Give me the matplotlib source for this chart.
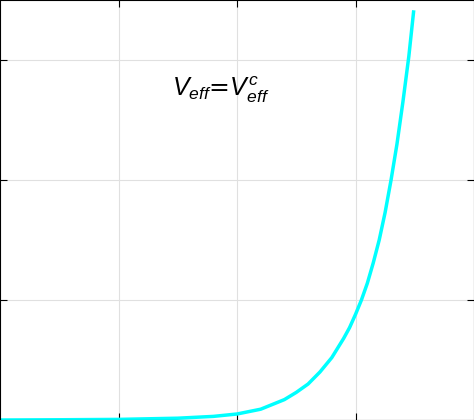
import matplotlib
matplotlib.use("Agg")
import matplotlib.pyplot as plt

plt.rcParams["mathtext.fontset"] = "custom"
plt.rcParams["mathtext.rm"] = "Liberation Sans"
plt.rcParams["mathtext.it"] = "Liberation Sans:italic"

x_vals = [0.0, 0.5, 1.0, 1.5, 1.8, 2.0, 2.1, 2.2, 2.3, 2.4, 2.5, 2.6, 2.7, 2.8, 2.85, 2.9, 2.95, 3.0,
          3.05, 3.1, 3.15, 3.2, 3.25, 3.3, 3.35, 3.4, 3.45, 3.49]
y_vals = [0.0, 0.002, 0.005, 0.015, 0.03, 0.05, 0.07, 0.09, 0.13, 0.17, 0.23, 0.30, 0.40, 0.52, 0.60,
          0.68, 0.77, 0.88, 1.00, 1.14, 1.31, 1.50, 1.73, 2.00, 2.30, 2.65, 3.03, 3.40]

fig = plt.figure(figsize=(4.74, 4.20), dpi=100)
ax = fig.add_axes([0, 0, 1, 1])
ax.plot(x_vals, y_vals, color="cyan", lw=2.5)
ax.set_xlim(0, 4)
ax.set_ylim(0, 3.5)
ax.set_xticks([1, 2, 3])
ax.set_yticks([1, 2, 3])
ax.grid(True, color="#e0e0e0", lw=0.8)
ax.tick_params(direction="in", length=5, labelbottom=False, labelleft=False, top=True, right=True)
ax.text(1.86, 2.7, r"$V_{eff}$=$V^{c}_{eff}$", fontsize=18, ha="center")
fig.savefig("out.png", dpi=100)
